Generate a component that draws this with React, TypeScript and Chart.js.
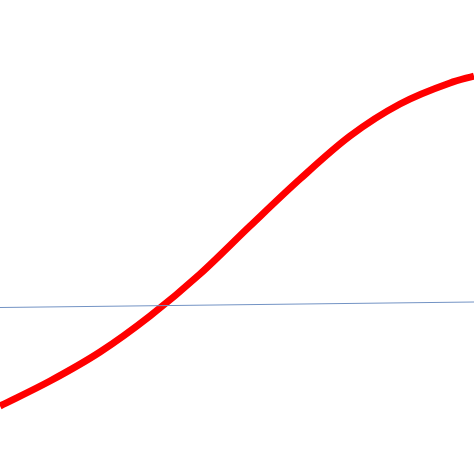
import React, { useEffect, useRef } from 'react';
import Chart from 'chart.js/auto';

// --- data ---
const curveX = [0, 50, 100, 150, 200, 250, 300, 350, 400, 450, 474];
const curveY = [68, 93, 122, 158, 200, 248, 295, 338, 370, 391, 398];
const baseX = [0, 474];
const baseY = [166.5, 172];

export default function App() {
  const canvasRef = useRef<HTMLCanvasElement>(null);

  useEffect(() => {
    const ctx = canvasRef.current?.getContext('2d');
    if (!ctx) return;

    const chart = new Chart(ctx, {
      type: 'scatter',
      data: {
        datasets: [
          {
            data: baseX.map((x, i) => ({ x, y: baseY[i] })),
            showLine: true,
            borderColor: '#7393c4',
            borderWidth: 1,
            pointRadius: 0,
          },
          {
            data: curveX.map((x, i) => ({ x, y: curveY[i] })),
            showLine: true,
            borderColor: '#ff0000',
            borderWidth: 7,
            pointRadius: 0,
            cubicInterpolationMode: 'monotone',
          },
        ],
      },
      options: {
        animation: false,
        responsive: true,
        maintainAspectRatio: false,
        layout: { padding: 0 },
        plugins: { legend: { display: false }, tooltip: { enabled: false } },
        scales: {
          x: { type: 'linear', min: 0, max: 474, display: false },
          y: { type: 'linear', min: 0, max: 474, display: false },
        },
      },
    });

    return () => chart.destroy();
  }, []);

  return (
    <div style={{ position: 'fixed', left: 0, top: 0, width: 474, height: 474, background: '#fff' }}>
      <canvas ref={canvasRef}></canvas>
    </div>
  );
}
